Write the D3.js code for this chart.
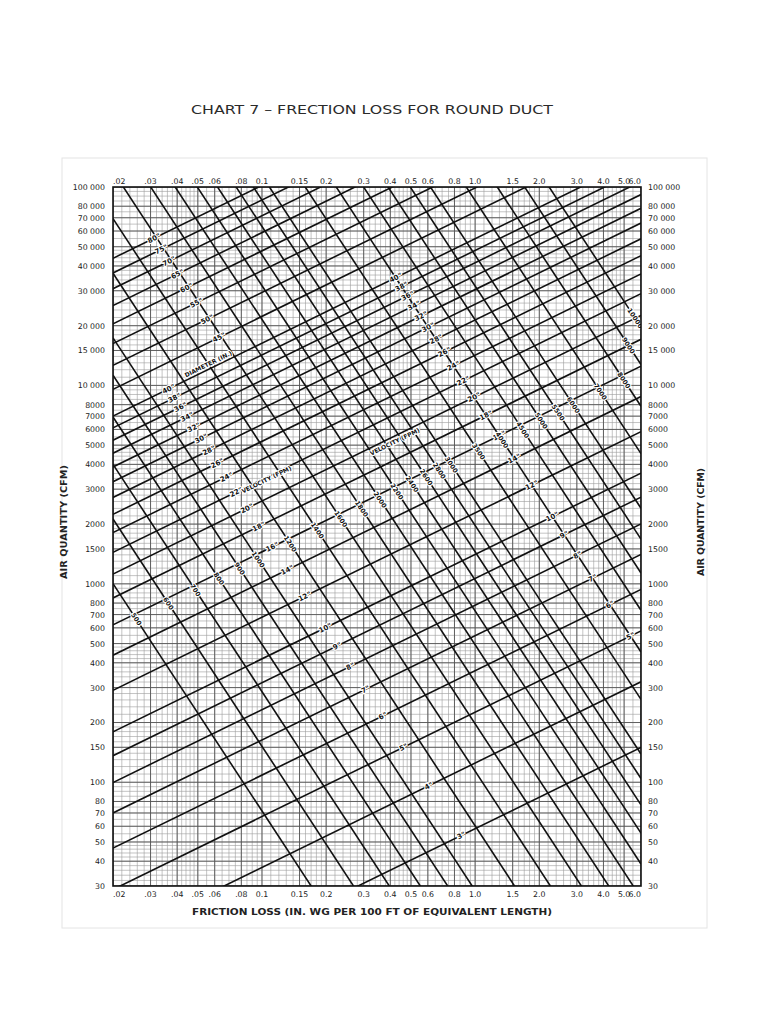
<!DOCTYPE html>
<html><head><meta charset="utf-8">
<script src="https://cdn.jsdelivr.net/npm/d3@7/dist/d3.min.js"></script>
<style>body{margin:0;background:#fff}svg{display:block}</style>
</head><body>
<svg id="c" width="768" height="1024"></svg>
<script>
// ---------- DATA ----------
const xTickValues = [0.02,0.03,0.04,0.05,0.06,0.08,0.1,0.15,0.2,0.3,0.4,0.5,0.6,0.8,1.0,1.5,2.0,3.0,4.0,5.0,6.0];
const xTickLabels = [".02",".03",".04",".05",".06",".08","0.1","0.15","0.2","0.3","0.4","0.5","0.6","0.8","1.0","1.5","2.0","3.0","4.0","5.0","6.0"];
const yTickValues = [30,40,50,60,70,80,100,150,200,300,400,500,600,700,800,1000,1500,2000,3000,4000,5000,6000,7000,8000,10000,15000,20000,30000,40000,50000,60000,70000,80000,100000];
const yTickLabels = ["30","40","50","60","70","80","100","150","200","300","400","500","600","700","800","1000","1500","2000","3000","4000","5000","6000","7000","8000","10 000","15 000","20 000","30 000","40 000","50 000","60 000","70 000","80 000","100 000"];

// Duct diameter lines (in.): air quantity (cfm) where each line meets friction 0.02 and 6.0
const diameters = [3,4,5,6,7,8,9,10,12,14,16,18,20,22,24,26,28,30,32,34,36,38,40,45,50,55,60,65,70,75,80];
const diameterCfmAtLow  = [7.45,15.95,28.8,46.6,70.0,99.6,136,179.5,290.8,436.6,621.4,848.4,1120.6,1441,1813.6,2240.6,2725.8,3272,3880.7,4554,5298,6112,7002,9556,12622,16237,20437,25256,30721,36866,43707];
const diameterCfmAtHigh = [149.9,320.9,578.9,936.6,1407.6,2004,2736,3612,5851,8784,12503,17070,22546,28993,36490,45081,54843,65833,78080,91626,106596,122973,140880,192267,253955,326688,411192,508151,618107,741744,879385];

// Velocity lines (fpm): air quantity (cfm) where each line meets friction 0.02 and 6.0
const velocities = [500,600,700,800,900,1000,1200,1400,1600,1800,2000,2200,2400,2600,2800,3000,3500,4000,4500,5000,5500,6000,7000,8000,9000,10000];
const velocityCfmAtLow  = [1002,2122,4000,6930,11250,17360,36760,69300,120100,194900,300700,444900,636700,885000,1.2e6,1.595e6,3.008e6,5.21e6,8.46e6,1.305e7,1.932e7,2.763e7,5.21e7,9.02e7,1.465e8,2.26e8];
const velocityCfmAtHigh = [0.0871,0.1845,0.348,0.6026,0.978,1.51,3.195,6.03,10.44,16.95,26.15,38.7,55.4,76.9,104.4,138.7,261.5,453,735.6,1134,1680,2403,4531,7847,12740,19660];

// Where the printed labels sit: each label group follows a guide line (cfm at friction 0.02 and 6.0)
const upperDiameterLabels  = [80,75,70,65,60,55,50,45];
const upperDiameterGuide   = [114000, 9.91];
const lowerDiameterLabels  = [40,38,36,34,32,30,28,26,24,22,20,18,16,14,12,10,9,8,7,6,5,4,3];
const lowerDiameterGuide   = [25690, 2.234];
const rightDiameterLabels  = [40,38,36,34,32,30,28,26,24,22,20,18,16,14,12,10,9,8,7,6,5];
const rightDiameterGuide   = [5.21e6, 453];
const velocityLabelGuide   = [581, 11690];
const velocityLabelOnDiameter = [null,null,null,null,null,null,null,null,null,null,null,null,null,null,null,null,null,null,null,null,null,null,null,null,18,20];

const chartTitle = "CHART 7 \u2013 FRECTION LOSS FOR ROUND DUCT";
const xTitle = "FRICTION LOSS (IN. WG PER 100 FT OF EQUIVALENT LENGTH)";
const yTitle = "AIR QUANTITY (CFM)";
const annotations = [
  {text:"DIAMETER (IN.)", f:0.056, q:12800, dir:"diam"},
  {text:"VELOCITY (FPM)", f:0.105, q:3350, dir:"diam"},
  {text:"VELOCITY (FPM)", f:0.42, q:5200, dir:"diam"}
];

// ---------- CHART ----------
const svg = d3.select("#c");
const L=113, R=641, T=187, B=886;
const x = d3.scaleLog().domain([0.02,6]).range([L,R]);
const y = d3.scaleLog().domain([30,100000]).range([B,T]);
const FONT = "'DejaVu Sans', 'Liberation Sans', sans-serif";

// faint page frame
svg.append("rect").attr("x",62).attr("y",158).attr("width",645).attr("height",770)
  .attr("fill","none").attr("stroke","#e4e4e4").attr("stroke-width",1);

// title
svg.append("text").attr("x",372).attr("y",114).attr("text-anchor","middle")
  .attr("font-family",FONT).attr("font-size",11.5).attr("fill","#2a2a2a")
  .attr("textLength",362).attr("lengthAdjust","spacingAndGlyphs").text(chartTitle);

svg.append("clipPath").attr("id","plotclip").append("rect")
  .attr("x",L).attr("y",T).attr("width",R-L).attr("height",B-T);
const g = svg.append("g").attr("clip-path","url(#plotclip)");

// minor grid
function minorVals(lo,hi){
  const out=[];
  for(let d=Math.pow(10,Math.floor(Math.log10(lo))); d<=hi; d*=10){
    const ms=[];
    for(let m=1;m<2-1e-9;m+=0.1) ms.push(m);
    for(let m=2;m<5-1e-9;m+=0.2) ms.push(m);
    for(let m=5;m<10-1e-9;m+=0.5) ms.push(m);
    ms.forEach(m=>{const v=+(m*d).toPrecision(6); if(v>=lo&&v<=hi) out.push(v);});
  }
  return out;
}
g.selectAll("line.vmin").data(minorVals(0.02,6)).enter().append("line")
  .attr("x1",d=>x(d)).attr("x2",d=>x(d)).attr("y1",T).attr("y2",B)
  .attr("stroke","#9c9c9c").attr("stroke-width",0.6);
g.selectAll("line.hmin").data(minorVals(30,100000)).enter().append("line")
  .attr("y1",d=>y(d)).attr("y2",d=>y(d)).attr("x1",L).attr("x2",R)
  .attr("stroke","#9c9c9c").attr("stroke-width",0.6);
// major grid
g.selectAll("line.vmaj").data(xTickValues).enter().append("line")
  .attr("x1",d=>x(d)).attr("x2",d=>x(d)).attr("y1",T).attr("y2",B)
  .attr("stroke","#555").attr("stroke-width",0.9);
g.selectAll("line.hmaj").data(yTickValues).enter().append("line")
  .attr("y1",d=>y(d)).attr("y2",d=>y(d)).attr("x1",L).attr("x2",R)
  .attr("stroke","#555").attr("stroke-width",0.9);

const lineGen = d3.line().x(d=>x(d[0])).y(d=>y(d[1]));
const fLo = 0.02, fHi = 6.0;

// diameter lines
g.selectAll("path.diam").data(diameters).enter().append("path")
  .attr("d",(d,i)=>lineGen([[fLo,diameterCfmAtLow[i]],[fHi,diameterCfmAtHigh[i]]]))
  .attr("fill","none").attr("stroke","#111").attr("stroke-width",1.6);
// velocity lines
g.selectAll("path.vel").data(velocities).enter().append("path")
  .attr("d",(d,i)=>lineGen([[fLo,velocityCfmAtLow[i]],[fHi,velocityCfmAtHigh[i]]]))
  .attr("fill","none").attr("stroke","#111").attr("stroke-width",1.6);

// intersection of two lines given by cfm at fLo and fHi (straight in log-log)
function intersect(a,b){
  const A1=Math.log10(a[0]), A2=Math.log10(a[1]), B1=Math.log10(b[0]), B2=Math.log10(b[1]);
  const t=(B1-A1)/((A2-A1)-(B2-B1));
  const lf=Math.log10(fLo)+t*(Math.log10(fHi)-Math.log10(fLo));
  return [Math.pow(10,lf), Math.pow(10,A1+t*(A2-A1))];
}
const diamAngle = Math.atan2(y(diameterCfmAtHigh[0])-y(diameterCfmAtLow[0]), x(fHi)-x(fLo))*180/Math.PI;
const velAngle = Math.atan2(y(velocityCfmAtHigh[0])-y(velocityCfmAtLow[0]), x(fHi)-x(fLo))*180/Math.PI;

const labelLayer = svg.append("g").attr("clip-path","url(#plotclip)");
function addLabel(pt, text, angle, size, weight){
  const px=x(pt[0]), py=y(pt[1]);
  labelLayer.append("text").attr("transform",`translate(${px},${py}) rotate(${angle})`)
    .attr("text-anchor","middle").attr("dy","0.35em")
    .attr("font-family",FONT).attr("font-size",size||7).attr("font-weight",weight||"bold")
    .attr("fill","#111").attr("stroke","#fff").attr("stroke-width",2.2)
    .attr("paint-order","stroke").text(text);
}
function diamLine(dv){ const i=diameters.indexOf(dv); return [diameterCfmAtLow[i],diameterCfmAtHigh[i]]; }
upperDiameterLabels.forEach(dv=>addLabel(intersect(diamLine(dv),upperDiameterGuide), dv+'"', diamAngle));
lowerDiameterLabels.forEach(dv=>addLabel(intersect(diamLine(dv),lowerDiameterGuide), dv+'"', diamAngle));
rightDiameterLabels.forEach(dv=>addLabel(intersect(diamLine(dv),rightDiameterGuide), dv+'"', diamAngle));
velocities.forEach((v,i)=>{
  const guide = velocityLabelOnDiameter[i]==null ? velocityLabelGuide : diamLine(velocityLabelOnDiameter[i]);
  addLabel(intersect([velocityCfmAtLow[i],velocityCfmAtHigh[i]],guide), String(v), velAngle, 6.5);
});
annotations.forEach(a=>addLabel([a.f,a.q], a.text, a.dir==="diam"?diamAngle:velAngle, 6, "bold"));

// frame
svg.append("rect").attr("x",L).attr("y",T).attr("width",R-L).attr("height",B-T)
  .attr("fill","none").attr("stroke","#111").attr("stroke-width",1.6);

// tick labels
function tickText(sel){ return sel.attr("font-family",FONT).attr("font-size",7.8).attr("fill","#222"); }
tickText(svg.append("g").selectAll("text").data(xTickValues).enter().append("text")
  .attr("x",d=>x(d)).attr("y",T-3).attr("text-anchor",(d,i)=>i===0?"start":(i===xTickValues.length-1?"end":"middle"))
  .text((d,i)=>xTickLabels[i]));
tickText(svg.append("g").selectAll("text").data(xTickValues).enter().append("text")
  .attr("x",d=>x(d)).attr("y",B+11).attr("text-anchor",(d,i)=>i===0?"start":(i===xTickValues.length-1?"end":"middle"))
  .text((d,i)=>xTickLabels[i]));
tickText(svg.append("g").selectAll("text").data(yTickValues).enter().append("text")
  .attr("x",L-8).attr("y",d=>y(d)).attr("dy","0.38em").attr("text-anchor","end")
  .text((d,i)=>yTickLabels[i]));
tickText(svg.append("g").selectAll("text").data(yTickValues).enter().append("text")
  .attr("x",R+7).attr("y",d=>y(d)).attr("dy","0.38em").attr("text-anchor","start")
  .text((d,i)=>yTickLabels[i]));

// axis titles
svg.append("text").attr("x",372).attr("y",915).attr("text-anchor","middle")
  .attr("font-family",FONT).attr("font-size",9).attr("font-weight","bold").attr("fill","#222")
  .attr("textLength",360).attr("lengthAdjust","spacingAndGlyphs").text(xTitle);
svg.append("text").attr("transform","translate(67,522) rotate(-90)").attr("text-anchor","middle")
  .attr("font-family",FONT).attr("font-size",8.5).attr("font-weight","bold").attr("fill","#222")
  .attr("textLength",114).attr("lengthAdjust","spacingAndGlyphs").text(yTitle);
svg.append("text").attr("transform","translate(704,522) rotate(-90)").attr("text-anchor","middle")
  .attr("font-family",FONT).attr("font-size",8.5).attr("font-weight","bold").attr("fill","#222")
  .attr("textLength",108).attr("lengthAdjust","spacingAndGlyphs").text(yTitle);
</script>
</body></html>
